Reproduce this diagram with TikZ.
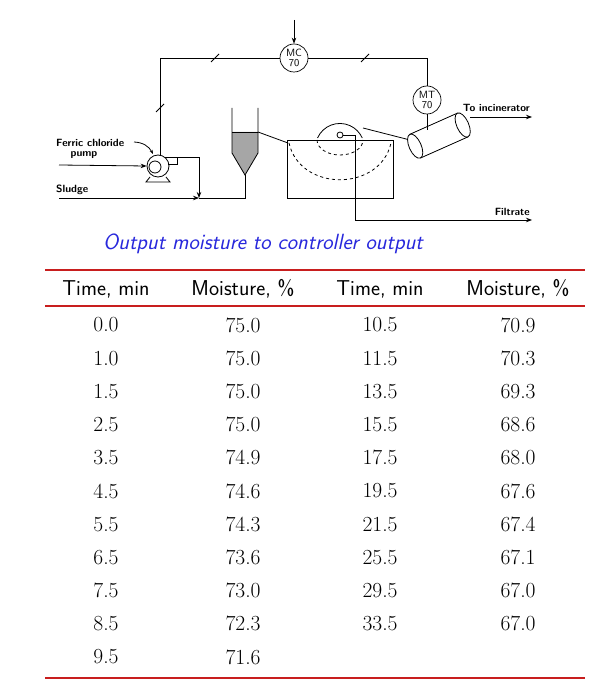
\documentclass[tikz,border=0pt]{standalone}
\usepackage{fontspec}
\setmainfont{Latin Modern Roman}
\setsansfont{Latin Modern Sans}
\usetikzlibrary{arrows.meta}
\definecolor{tred}{RGB}{200,30,30}
\definecolor{tblue}{RGB}{40,40,220}
\begin{document}
\begin{tikzpicture}[x=1pt,y=-1pt,
  ln/.style={line width=0.8pt},
  arr/.style={ln,-{Stealth[length=6pt,width=4.5pt]}},
  lab/.style={font=\sffamily\bfseries\fontsize{10.5}{11}\selectfont,inner sep=0pt},
  hd/.style={font=\sffamily\fontsize{21.5}{24}\selectfont},
  num/.style={font=\fontsize{21.5}{24}\selectfont},
  rule/.style={tred,line width=2.2pt}]
\useasboundingbox (0,0) rectangle (608,700);
% instruments
\node[draw,circle,line width=0.7pt,minimum size=28pt,inner sep=0pt,font=\sffamily\fontsize{10.5}{9.5}\selectfont,align=center] (mc) at (294,58) {MC\\70};
\node[draw,circle,line width=0.7pt,minimum size=28pt,inner sep=0pt,font=\sffamily\fontsize{10.5}{9.5}\selectfont,align=center] (mt) at (427,100) {MT\\70};
\coordinate (mctop) at (294,20);
\draw[arr] (mctop) -- (mc.north);
\coordinate (tl) at (160,58);
\coordinate (tr) at (427,58);
\node[draw,circle,line width=0.8pt,minimum size=22pt,inner sep=0pt] (pump) at (158,166) {};
\draw[ln] (mc.west) -- (tl) -- (160,155);
\draw[ln] (mc.east) -- (tr) -- (mt.north);
% slashes
\draw[ln] (211,62) -- (219,54);
\draw[ln] (361,62) -- (369,54);
\draw[ln] (156,112) -- (164,104);
% pump detail
\draw[ln] (155,167) circle (6pt);
\draw[ln] (150,177) -- (146,182) -- (170,182) -- (166,177);
\draw[ln] (165,157) -- (177,157) -- (177,164) -- (168,164);
\coordinate (pj) at (199,198);
\draw[arr] (177,157) -- (199,157) -- (pj);
% inlet
\coordinate (fin) at (59,165);
\draw[arr] (fin) -- (pump.west);
\node[lab,anchor=west] (fc) at (56,143) {Ferric chloride};
\node[lab] (fp) at (84,155) {pump};
\draw[ln,-{Stealth[length=4pt,width=3pt]}] (134,142) to[bend left=30] (153,154);
\node[lab,anchor=west] (sl) at (56,190) {Sludge};
\coordinate (sin) at (59,198);
\draw[arr] (sin) -- (pj);
% hopper
\fill[gray!70] (232,132) -- (258,132) -- (258,153) -- (245,175) -- (232,153) -- cycle;
\draw[ln] (232,108) -- (232,153) -- (245,175) -- (258,153) -- (258,108);
\draw[ln] (232,132) -- (258,132);
\draw[ln] (pj) -- (245,198) -- (245,175);
% tank
\draw[ln] (287,140) rectangle (393,198);
\draw[ln] (258,132) -- (288,143);
\draw[ln] (317.5,138) arc (204:336:24.5);
\draw[ln,dashed] (317,140) arc (180:0:23 and 15);
\draw[ln,dashed] (289,143) .. controls (300,192) and (380,192) .. (391,143);
\draw[ln] (340,135) circle (3pt);
\coordinate (fl) at (532,220);
\draw[arr] (343,135) -- (355,135) -- (355,220) -- (fl);
\node[lab,anchor=east] (filt) at (530,212) {Filtrate};
% belt & cylinder
\draw[ln] (363,128) -- (410,140);
\draw[ln] (mt.south) -- (427,130);
\begin{scope}[rotate around={-24:(438,136)}]
\end{scope}
\begin{scope}[rotate around={24:(438,136)}]
\draw[ln,fill=white] (413,136) ellipse (6 and 13);
\draw[ln] (413,123) -- (465,123);
\draw[ln] (413,149) -- (465,149);
\draw[ln,fill=white] (465,136) ellipse (6 and 13);
\end{scope}
\coordinate (inc) at (532,117);
\draw[arr] (470,117) -- (inc);
\node[lab,anchor=east] (tinc) at (530,108) {To incinerator};
% title
\node[font=\sffamily\itshape\fontsize{22}{24}\selectfont,text=tblue] (title) at (263,244) {Output moisture to controller output};
% table
\draw[rule] (45,270) -- (585,270);
\draw[rule] (45,306) -- (585,306);
\draw[rule] (45,678) -- (585,678);
\node[hd] (h1) at (106,289) {Time, min};
\node[hd] (h2) at (243,289) {Moisture, \%};
\node[hd] (h3) at (380,289) {Time, min};
\node[hd] (h4) at (518,289) {Moisture, \%};
\foreach \a/\b/\c/\d [count=\i from 0] in {0.0/75.0/10.5/70.9,1.0/75.0/11.5/70.3,1.5/75.0/13.5/69.3,2.5/75.0/15.5/68.6,3.5/74.9/17.5/68.0,4.5/74.6/19.5/67.6,5.5/74.3/21.5/67.4,6.5/73.6/25.5/67.1,7.5/73.0/29.5/67.0,8.5/72.3/33.5/67.0}{
  \node[num] (a\i) at (106,325+33.2*\i) {\a};
  \node[num] (b\i) at (243,325+33.2*\i) {\b};
  \node[num] (c\i) at (380,325+33.2*\i) {\c};
  \node[num] (d\i) at (518,325+33.2*\i) {\d};
}
\node[num] (a10) at (106,657) {9.5};
\node[num] (b10) at (243,657) {71.6};
\end{tikzpicture}
\end{document}
